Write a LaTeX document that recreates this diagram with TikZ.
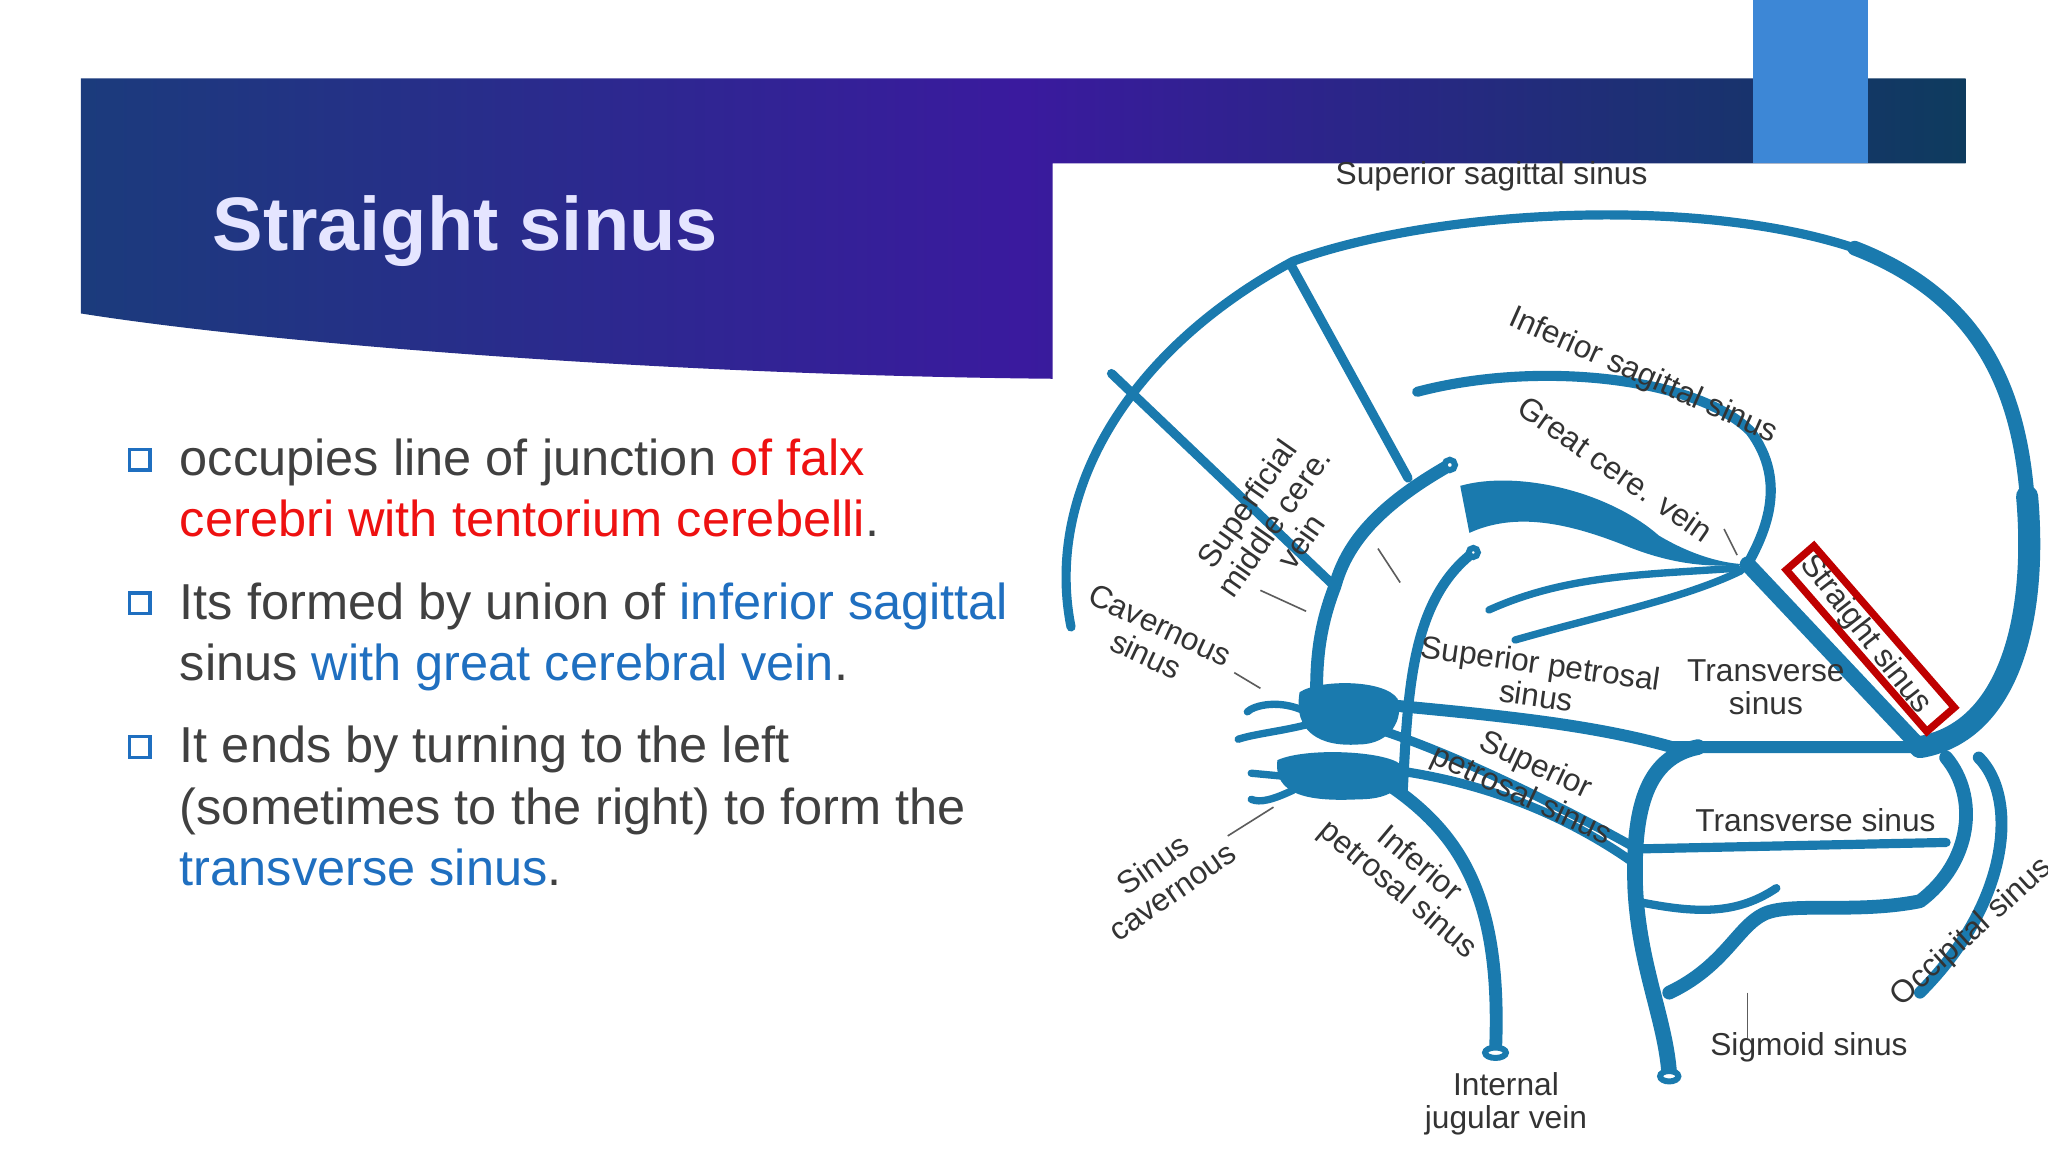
\documentclass[tikz,border=0pt]{standalone}
\usepackage{fontspec}
\setmainfont{Liberation Sans}
\definecolor{vein}{HTML}{1A7AAE}
\definecolor{txtg}{HTML}{404040}
\definecolor{redt}{HTML}{EE1111}
\definecolor{bluet}{HTML}{1F6FC0}
\definecolor{lbl}{HTML}{333333}
\definecolor{hl}{HTML}{1B3B7C}\definecolor{hm}{HTML}{3A1A9E}\definecolor{hr}{HTML}{0E3B5E}
\definecolor{tabb}{HTML}{3D87D6}
\tikzset{
  sv/.style={draw=vein,line width=#1,line cap=round,line join=round},
  sv/.default=2.2pt,
  lab/.style={text=lbl,font=\fontsize{6.9}{7.2}\selectfont,align=center,inner sep=0pt},
  lead/.style={draw=lbl!80,line width=0.35pt},
  bl/.style={anchor=base west,inner sep=0pt,text=txtg,font=\fontsize{11}{13.4}\selectfont},
  bsq/.style={draw=bluet,line width=0.7pt,minimum size=4.5pt,inner sep=0pt}
}
\begin{document}
\begin{tikzpicture}[x=0.01cm,y=-0.01cm]
\useasboundingbox (0,0) rectangle (1568,882);
\fill[white] (0,0) rectangle (1568,882);
% header
\shade[left color=hl,right color=hr,middle color=hm]
  (62,60) -- (1505,60) -- (1505,125) -- (806,125) -- (806,290)
  .. controls (500,287) and (200,262) .. (62,240) -- cycle;
\fill[tabb] (1342,0) rectangle (1430,125);
\node[anchor=base west,inner sep=0pt,text=white!90!blue,font=\fontsize{16.5}{18}\selectfont\bfseries] (title) at (162,192) {Straight sinus};
% bullets
\node[bsq] (b1) at (107,352) {};
\node[bl] (l1) at (137,364) {occupies line of junction \textcolor{redt}{of falx}};
\node[bl] (l2) at (137,411) {\textcolor{redt}{cerebri with tentorium cerebelli}.};
\node[bsq] (b2) at (107,462) {};
\node[bl] (l3) at (137,474) {Its formed by union of \textcolor{bluet}{inferior sagittal}};
\node[bl] (l4) at (137,521) {sinus \textcolor{bluet}{with great cerebral vein}.};
\node[bsq] (b3) at (107,572) {};
\node[bl] (l5) at (137,584) {It ends by turning to the left};
\node[bl] (l6) at (137,631) {(sometimes to the right) to form the};
\node[bl] (l7) at (137,678) {\textcolor{bluet}{transverse sinus}.};
% ---------- diagram ----------
\draw[sv=2pt] (820,480) .. controls (800,380) and (860,270) .. (990,200)
   .. controls (1100,160) and (1300,150) .. (1420,190);
\draw[sv=3.2pt] (1420,190) .. controls (1510,225) and (1545,290) .. (1552,380);
\draw[sv=4.8pt] (1552,380) .. controls (1560,470) and (1540,560) .. (1470,572);
\draw[sv=2pt] (851,286) -- (1022,449);
\draw[sv=2pt] (989,204) -- (1078,366);
\draw[sv=2.8pt] (1110,356) .. controls (1050,390) and (1030,420) .. (1022,449) .. controls (1010,480) and (1008,505) .. (1008,530);
\draw[sv=2.2pt] (1128,423) .. controls (1080,460) and (1078,530) .. (1074,605);
\fill[vein] (995,530) .. controls (1010,520) and (1060,520) .. (1070,535) .. controls (1075,550) and (1065,570) .. (1040,570) .. controls (1010,572) and (990,560) .. (995,530) -- cycle;
\fill[vein] (978,582) .. controls (1000,572) and (1060,575) .. (1072,585) .. controls (1078,600) and (1068,612) .. (1040,612) .. controls (1000,614) and (975,608) .. (978,582) -- cycle;
\draw[sv=1.6pt] (1000,545) .. controls (980,535) and (960,540) .. (955,545);
\draw[sv=1.6pt] (1000,555) .. controls (980,560) and (960,562) .. (948,566);
\draw[sv=1.6pt] (990,595) -- (958,592);
\draw[sv=1.6pt] (990,605) .. controls (975,612) and (965,615) .. (958,612);
\draw[sv=2.2pt] (1085,300) .. controls (1180,275) and (1300,290) .. (1340,330) .. controls (1370,370) and (1350,410) .. (1338,432);
\fill[vein] (1118,372) .. controls (1160,360) and (1230,375) .. (1270,410) .. controls (1295,425) and (1320,432) .. (1338,432)
  .. controls (1300,436) and (1270,428) .. (1245,418) .. controls (1200,400) and (1160,392) .. (1125,408) -- cycle;
\draw[sv=1.6pt] (1140,467) .. controls (1200,440) and (1260,440) .. (1330,435);
\draw[sv=1.6pt] (1160,490) .. controls (1230,470) and (1290,458) .. (1333,437);
\draw[sv=3.4pt] (1338,432) -- (1470,572);
\draw[sv=2.6pt] (1065,540) .. controls (1150,548) and (1220,555) .. (1280,572) -- (1470,572);
\draw[sv=3.4pt] (1300,572) .. controls (1260,580) and (1250,620) .. (1252,680) .. controls (1255,740) and (1275,780) .. (1278,822);
\draw[sv=2pt] (1060,560) .. controls (1120,580) and (1200,620) .. (1250,648);
\draw[sv=2pt] (1070,590) .. controls (1140,600) and (1200,625) .. (1250,660);
\draw[sv=2.8pt] (1065,602) .. controls (1120,640) and (1150,690) .. (1145,805);
\draw[sv=2pt] (1252,650) -- (1490,645);
\draw[sv=3pt] (1490,580) .. controls (1515,610) and (1510,660) .. (1470,690) .. controls (1420,700) and (1370,690) .. (1350,700) .. controls (1330,710) and (1320,740) .. (1278,760);
\draw[sv=2.6pt] (1515,580) .. controls (1545,610) and (1540,690) .. (1470,760);
\draw[sv=1.8pt] (1252,690) .. controls (1300,700) and (1330,700) .. (1360,680);
\draw[vein,fill=white,line width=1.3pt] (1145,806) ellipse (8 and 4);
\draw[vein,fill=white,line width=1.3pt] (1278,824) ellipse (7 and 4);
\draw[vein,fill=white,line width=1.3pt] (1110,356) circle (4);
\draw[vein,fill=white,line width=1.3pt] (1128,423) circle (3.5);
% labels
\node[lab] (sss) at (1142,135) {Superior sagittal sinus};
\node[lab,rotate=-24] (iss) at (1258,288) {Inferior sagittal sinus};
\node[lab,rotate=-35] (gcv) at (1237,359) {Great cere. vein};
\node[lab,rotate=55] (smv) at (975,400) {Superficial\\middle cere.\\vein};
\node[lab,rotate=-25] (cav) at (883,490) {Cavernous\\sinus};
\node[lab,rotate=-8] (spt) at (1178,520) {Superior petrosal\\sinus};
\node[lab] (tr1) at (1352,526) {Transverse\\sinus};
\node[lab,rotate=-25] (sp2) at (1170,598) {Superior\\petrosal sinus};
\node[lab] (tr2) at (1390,628) {Transverse sinus};
\node[lab,rotate=-40] (ips) at (1078,672) {Inferior\\petrosal sinus};
\node[lab,rotate=35] (sc) at (890,672) {Sinus\\cavernous};
\node[lab] (ijv) at (1153,845) {Internal\\jugular vein};
\node[lab] (sig) at (1385,802) {Sigmoid sinus};
\node[lab,rotate=42] (occ) at (1510,714) {Occipital sinus};
\node[lab,rotate=-52] (ss) at (1428,486) {Straight sinus};
\draw[draw=red!75!black,line width=1.6pt,rotate around={-49:(1432,489)}] (1432,489) ++(-82,-14) rectangle ++(164,28);
% leaders
\draw[lead] (965,452) -- (1000,468);
\draw[lead] (1055,420) -- (1072,446);
\draw[lead] (945,515) -- (965,527);
\draw[lead] (940,640) -- (975,618);
\draw[lead] (1320,405) -- (1330,425);
\draw[lead] (1338,760) -- (1338,795);
\end{tikzpicture}
\end{document}
